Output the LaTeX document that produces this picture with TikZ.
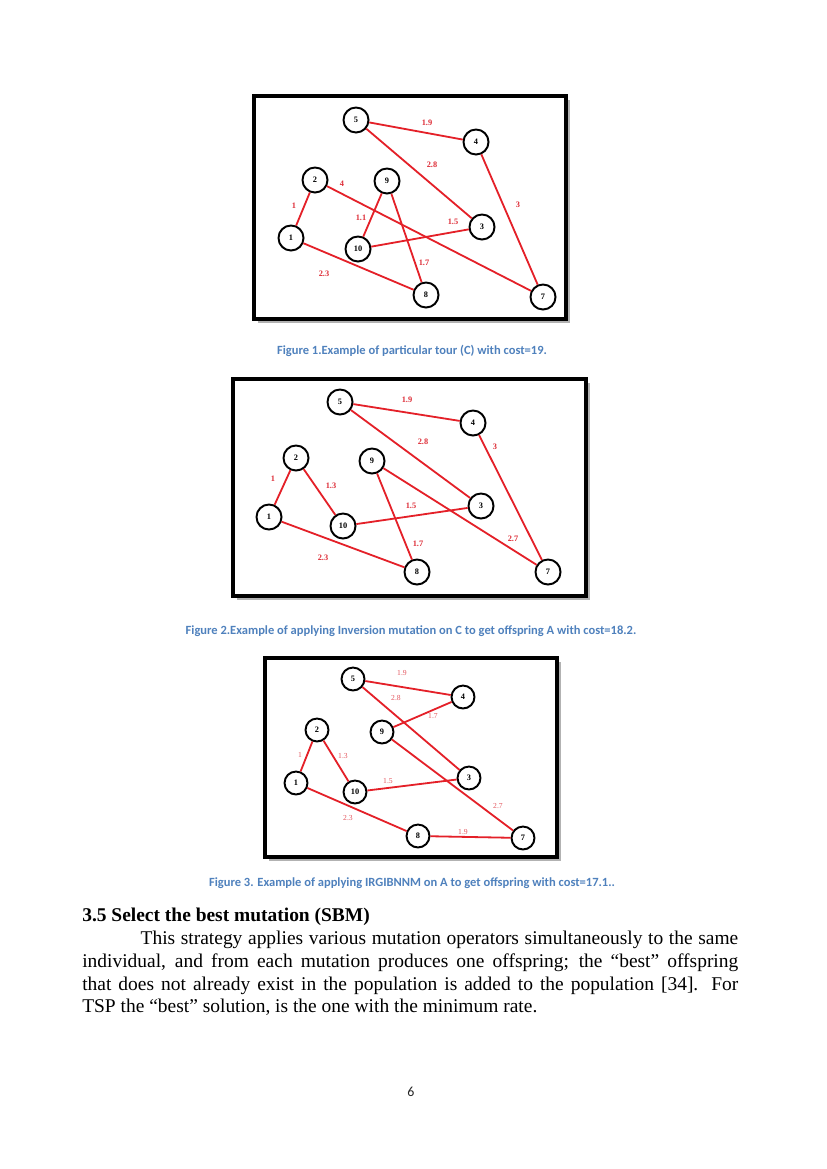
\documentclass[tikz,border=0pt]{standalone}
\usepackage{fontspec}
\setmainfont{Liberation Serif}
\newfontfamily\capfont{Carlito}
\definecolor{roadred}{RGB}{228,32,40}
\definecolor{costred}{RGB}{222,45,55}
\definecolor{capblue}{RGB}{79,129,189}
\tikzset{
  frame/.style={draw=black, line width=2.3pt},
  framesh/.style={fill=black!30, draw=none},
  city/.style={circle, draw=black, line width=1.4pt, fill=white, minimum size=18pt, inner sep=0pt, font=\bfseries\fontsize{6}{6}\selectfont},
  citys/.style={city, minimum size=16.5pt},
  road/.style={draw=roadred, line width=1.3pt},
  cost/.style={text=costred, font=\bfseries\fontsize{6}{6}\selectfont, inner sep=0pt},
  costs/.style={text=costred!80, font=\fontsize{5.5}{5.5}\selectfont, inner sep=0pt},
  caption/.style={text=capblue, font=\capfont\bfseries\fontsize{9}{10}\selectfont, inner sep=0pt},
}
\begin{document}
\begin{tikzpicture}[x=0.7195pt, y=-0.7195pt]
\useasboundingbox[fill=white] (0,0) rectangle (827,1169);

% ---------- Figure 1 ----------
\fill[framesh] (258,100) rectangle (570,323);
\draw[frame, fill=white] (254,96) rectangle (566,319);
\node[city] (a5) at (356,120) {5};
\node[city] (a4) at (476,142) {4};
\node[city] (a2) at (315,180) {2};
\node[city] (a9) at (387,181) {9};
\node[city] (a3) at (482,227) {3};
\node[city] (a1) at (291,238) {1};
\node[city] (a10) at (358,249) {10};
\node[city] (a8) at (426,295) {8};
\node[city] (a7) at (543,297) {7};
\draw[road] (a5) -- (a4);
\draw[road] (a5) -- (a3);
\draw[road] (a4) -- (a7);
\draw[road] (a2) -- (a1);
\draw[road] (a2) -- (a7);
\draw[road] (a9) -- (a10);
\draw[road] (a9) -- (a8);
\draw[road] (a10) -- (a3);
\draw[road] (a1) -- (a8);
\node[cost] (ca1) at (427,123) {1.9};
\node[cost] (ca2) at (432,165) {2.8};
\node[cost] (ca3) at (518,205) {3};
\node[cost] (ca4) at (342,184) {4};
\node[cost] (ca5) at (294,206) {1};
\node[cost] (ca6) at (361,218) {1.1};
\node[cost] (ca7) at (453,222) {1.5};
\node[cost] (ca8) at (424,263) {1.7};
\node[cost] (ca9) at (324,274) {2.3};
\node[caption] (cap1) at (412,351) {Figure 1.Example of particular tour (C) with cost=19.};

% ---------- Figure 2 ----------
\fill[framesh] (237,383) rectangle (590,600);
\draw[frame, fill=white] (233,379) rectangle (586,596);
\node[city] (b5) at (340,402) {5};
\node[city] (b4) at (473,423) {4};
\node[city] (b2) at (296,458) {2};
\node[city] (b9) at (372,461) {9};
\node[city] (b3) at (481,506) {3};
\node[city] (b1) at (269,517) {1};
\node[city] (b10) at (343,526) {10};
\node[city] (b8) at (417,572) {8};
\node[city] (b7) at (548,572) {7};
\draw[road] (b5) -- (b4);
\draw[road] (b5) -- (b3);
\draw[road] (b4) -- (b7);
\draw[road] (b2) -- (b1);
\draw[road] (b2) -- (b10);
\draw[road] (b9) -- (b8);
\draw[road] (b9) -- (b7);
\draw[road] (b10) -- (b3);
\draw[road] (b1) -- (b8);
\node[cost] (cb1) at (407,400) {1.9};
\node[cost] (cb2) at (423,442) {2.8};
\node[cost] (cb3) at (495,447) {3};
\node[cost] (cb4) at (273,479) {1};
\node[cost] (cb5) at (331,486) {1.3};
\node[cost] (cb6) at (411,506) {1.5};
\node[cost] (cb7) at (418,544) {1.7};
\node[cost] (cb8) at (513,539) {2.7};
\node[cost] (cb9) at (323,558) {2.3};
\node[caption] (cap2) at (411,631) {Figure 2.Example of applying Inversion mutation on C to get offspring A with cost=18.2.};

% ---------- Figure 3 ----------
\fill[framesh] (269,662) rectangle (561,861);
\draw[frame, fill=white] (265,658) rectangle (557,857);
\node[citys] (c5) at (353,679) {5};
\node[citys] (c4) at (463,697) {4};
\node[citys] (c2) at (317,730) {2};
\node[citys] (c9) at (382,732) {9};
\node[citys] (c3) at (469,778) {3};
\node[citys] (c1) at (296,783) {1};
\node[citys] (c10) at (355,792) {10};
\node[citys] (c8) at (418,836) {8};
\node[citys] (c7) at (523,838) {7};
\draw[road] (c5) -- (c4);
\draw[road] (c5) -- (c3);
\draw[road] (c4) -- (c9);
\draw[road] (c2) -- (c1);
\draw[road] (c2) -- (c10);
\draw[road] (c9) -- (c7);
\draw[road] (c10) -- (c3);
\draw[road] (c1) -- (c8);
\draw[road] (c8) -- (c7);
\node[costs] (cc1) at (402,673) {1.9};
\node[costs] (cc2) at (396,698) {2.8};
\node[costs] (cc3) at (433,716) {1.7};
\node[costs] (cc4) at (300,755) {1};
\node[costs] (cc5) at (343,756) {1.3};
\node[costs] (cc6) at (388,781) {1.5};
\node[costs] (cc7) at (498,806) {2.7};
\node[costs] (cc8) at (348,818) {2.3};
\node[costs] (cc9) at (463,832) {1.9};
\node[caption] (cap3) at (412,883) {Figure 3. Example of applying IRGIBNNM on A to get offspring with cost=17.1..};

% ---------- Text ----------
\node[anchor=north west, inner sep=0pt, text width=472pt, align=justify,
      font=\fontsize{14}{16.4}\selectfont] (body) at (82,908)
{\textbf{3.5 Select the best mutation (SBM)}\\
\hspace*{42pt}This strategy applies various mutation operators simultaneously to the same\linebreak
individual, and from each mutation produces one offspring; the “best” offspring\linebreak
that does not already exist in the population is added to the population [34]. For\linebreak
TSP the “best” solution, is the one with the minimum rate.};

\node[font=\capfont\fontsize{10}{10}\selectfont, text=black!85, inner sep=0pt] (pg) at (411,1092) {6};
\end{tikzpicture}
\end{document}
